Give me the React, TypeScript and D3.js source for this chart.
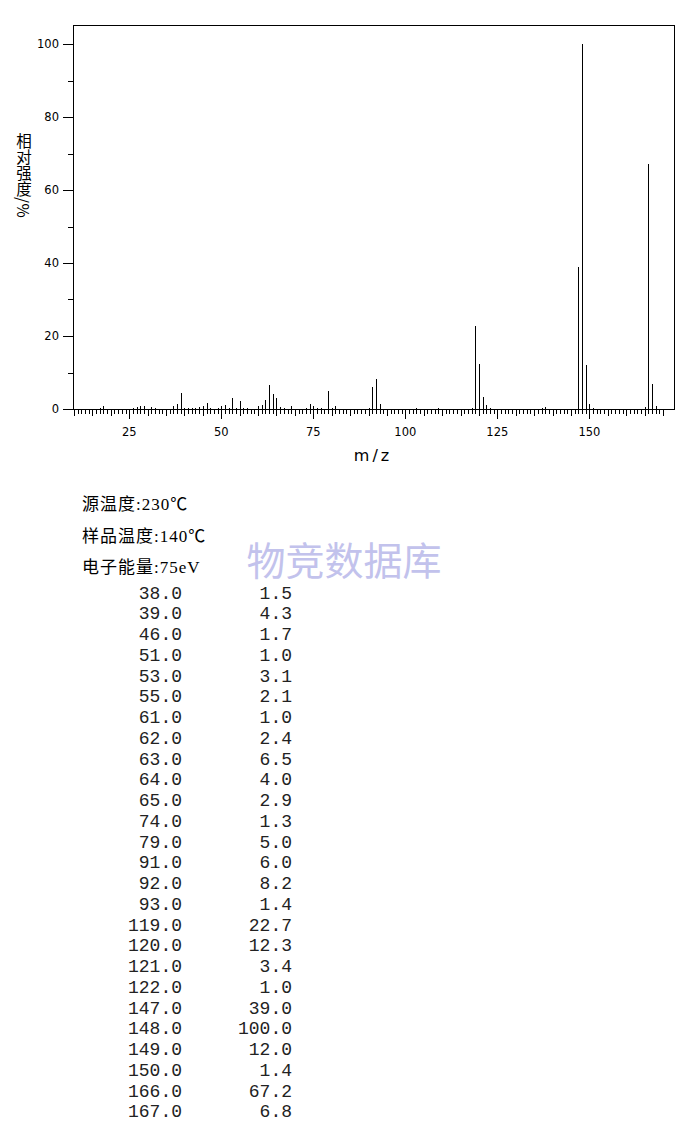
import { useRef, useEffect } from "react";
import * as d3 from "d3";

// listed peaks (table below the chart)
const listedMz = [38, 39, 46, 51, 53, 55, 61, 62, 63, 64, 65, 74, 79, 91, 92, 93, 119, 120, 121, 122, 147, 148, 149, 150, 166, 167];
const listedAbund = [1.5, 4.3, 1.7, 1.0, 3.1, 2.1, 1.0, 2.4, 6.5, 4.0, 2.9, 1.3, 5.0, 6.0, 8.2, 1.4, 22.7, 12.3, 3.4, 1.0, 39.0, 100.0, 12.0, 1.4, 67.2, 6.8];

// small peaks (below 1%)
const minorMz = [17, 18, 26, 27, 28, 29, 31, 32, 37, 40, 41, 42, 43, 44, 45, 47, 49, 50, 52, 54, 56, 57, 60, 66, 67, 69, 73, 75, 76, 77, 80, 81, 90, 103, 109, 118, 123, 137, 138, 151, 165, 168];
const minorAbund = [0.4, 0.8, 0.4, 0.6, 0.7, 0.9, 0.5, 0.4, 0.8, 0.3, 0.3, 0.4, 0.4, 0.6, 0.9, 0.4, 0.4, 0.8, 0.3, 0.3, 0.3, 0.3, 0.8, 0.6, 0.3, 0.7, 0.4, 0.7, 0.3, 0.3, 0.3, 0.8, 0.3, 0.3, 0.3, 0.4, 0.3, 0.3, 0.5, 0.3, 0.5, 0.8];

const yTicks = [0, 20, 40, 60, 80, 100];
const yMinorTicks = [10, 30, 50, 70, 90];
const xLabelTicks = [25, 50, 75, 100, 125, 150];

const yTitle = "相对强度/%";
const conditions = ["源温度:230℃", "样品温度:140℃", "电子能量:75eV"];
const watermark = "物竞数据库";

export default function App() {
  const svgRef = useRef<SVGSVGElement>(null);

  useEffect(() => {
    if (!svgRef.current) return;
    const svg = d3.select(svgRef.current);
    svg.selectAll("*").remove();

    const frame = { left: 73, right: 674, top: 25, bottom: 409 };
    const x = d3.scaleLinear().domain([10, 170]).range([74, 663]);
    const y = d3.scaleLinear().domain([0, 100]).range([409, 44]);
    const px = (v: number) => Math.round(v) + 0.5;

    const g = svg.append("g").attr("shape-rendering", "crispEdges");

    // frame
    g.append("path")
      .attr("d", `M${px(frame.left)},${px(frame.bottom)}V${px(frame.top)}H${px(frame.right)}V${px(frame.bottom)}Z`)
      .attr("fill", "none").attr("stroke", "#000");

    // y ticks
    yTicks.forEach((t) => {
      g.append("line").attr("x1", frame.left - 10).attr("x2", frame.left)
        .attr("y1", px(y(t))).attr("y2", px(y(t))).attr("stroke", "#000");
      svg.append("text").attr("x", 59).attr("y", y(t)).attr("dy", "0.36em")
        .attr("text-anchor", "end").attr("font-family", "DejaVu Sans").attr("font-size", 11.5)
        .text(t);
    });
    yMinorTicks.forEach((t) => {
      g.append("line").attr("x1", frame.left - 5).attr("x2", frame.left)
        .attr("y1", px(y(t))).attr("y2", px(y(t))).attr("stroke", "#000");
    });

    // x ticks: every unit, longer every 5, longest every 25
    d3.range(10, 171).forEach((t) => {
      const len = t % 25 === 0 ? 10 : t % 5 === 0 ? 7 : 5;
      g.append("line").attr("x1", px(x(t))).attr("x2", px(x(t)))
        .attr("y1", frame.bottom).attr("y2", frame.bottom + len).attr("stroke", "#000");
    });
    xLabelTicks.forEach((t) => {
      svg.append("text").attr("x", x(t)).attr("y", 436)
        .attr("text-anchor", "middle").attr("font-family", "DejaVu Sans").attr("font-size", 11.5)
        .text(t);
    });

    // peaks
    const peaks = [
      ...listedMz.map((m, i) => ({ mz: m, v: listedAbund[i] })),
      ...minorMz.map((m, i) => ({ mz: m, v: minorAbund[i] })),
    ];
    g.selectAll("line.peak").data(peaks).join("line").attr("class", "peak")
      .attr("x1", (d) => px(x(d.mz))).attr("x2", (d) => px(x(d.mz)))
      .attr("y1", frame.bottom).attr("y2", (d) => Math.round(y(d.v)))
      .attr("stroke", "#000");

    // axis titles
    svg.append("text").attr("x", 373).attr("y", 461).attr("text-anchor", "middle")
      .attr("font-family", "DejaVu Sans").attr("font-size", 16).attr("letter-spacing", 3)
      .text("m/z");
    // vertical writing: CJK upright, "/%" turned sideways
    svg.append("text").attr("x", 24).attr("y", 133)
      .style("writing-mode", "vertical-rl").style("text-orientation", "mixed")
      .attr("font-family", "'Noto Sans CJK SC'").attr("font-size", 15.5)
      .attr("letter-spacing", 0.5)
      .text(yTitle);

    // watermark
    svg.append("text").attr("x", 344).attr("y", 575).attr("text-anchor", "middle")
      .attr("font-family", "Noto Sans CJK SC").attr("font-size", 39).attr("fill", "#c2c2ec")
      .text(watermark);

    // conditions
    conditions.forEach((c, i) => {
      svg.append("text").attr("x", 82).attr("y", 510 + i * 31.5)
        .attr("font-family", "'Liberation Serif', 'Noto Sans CJK SC'").attr("font-size", 17)
        .attr("letter-spacing", 1)
        .text(c);
    });

    // peak table
    listedMz.forEach((m, i) => {
      const ty = 598.5 + i * 20.75;
      svg.append("text").attr("x", 182).attr("y", ty).attr("text-anchor", "end")
        .attr("font-family", "Liberation Mono").attr("font-size", 18).attr("fill", "#222")
        .text(m.toFixed(1));
      svg.append("text").attr("x", 292).attr("y", ty).attr("text-anchor", "end")
        .attr("font-family", "Liberation Mono").attr("font-size", 18).attr("fill", "#222")
        .text(listedAbund[i].toFixed(1));
    });
  }, []);

  return (
    <div style={{ position: "absolute", left: 0, top: 0, background: "#fff" }}>
      <svg ref={svgRef} width={687} height={1122} />
    </div>
  );
}
